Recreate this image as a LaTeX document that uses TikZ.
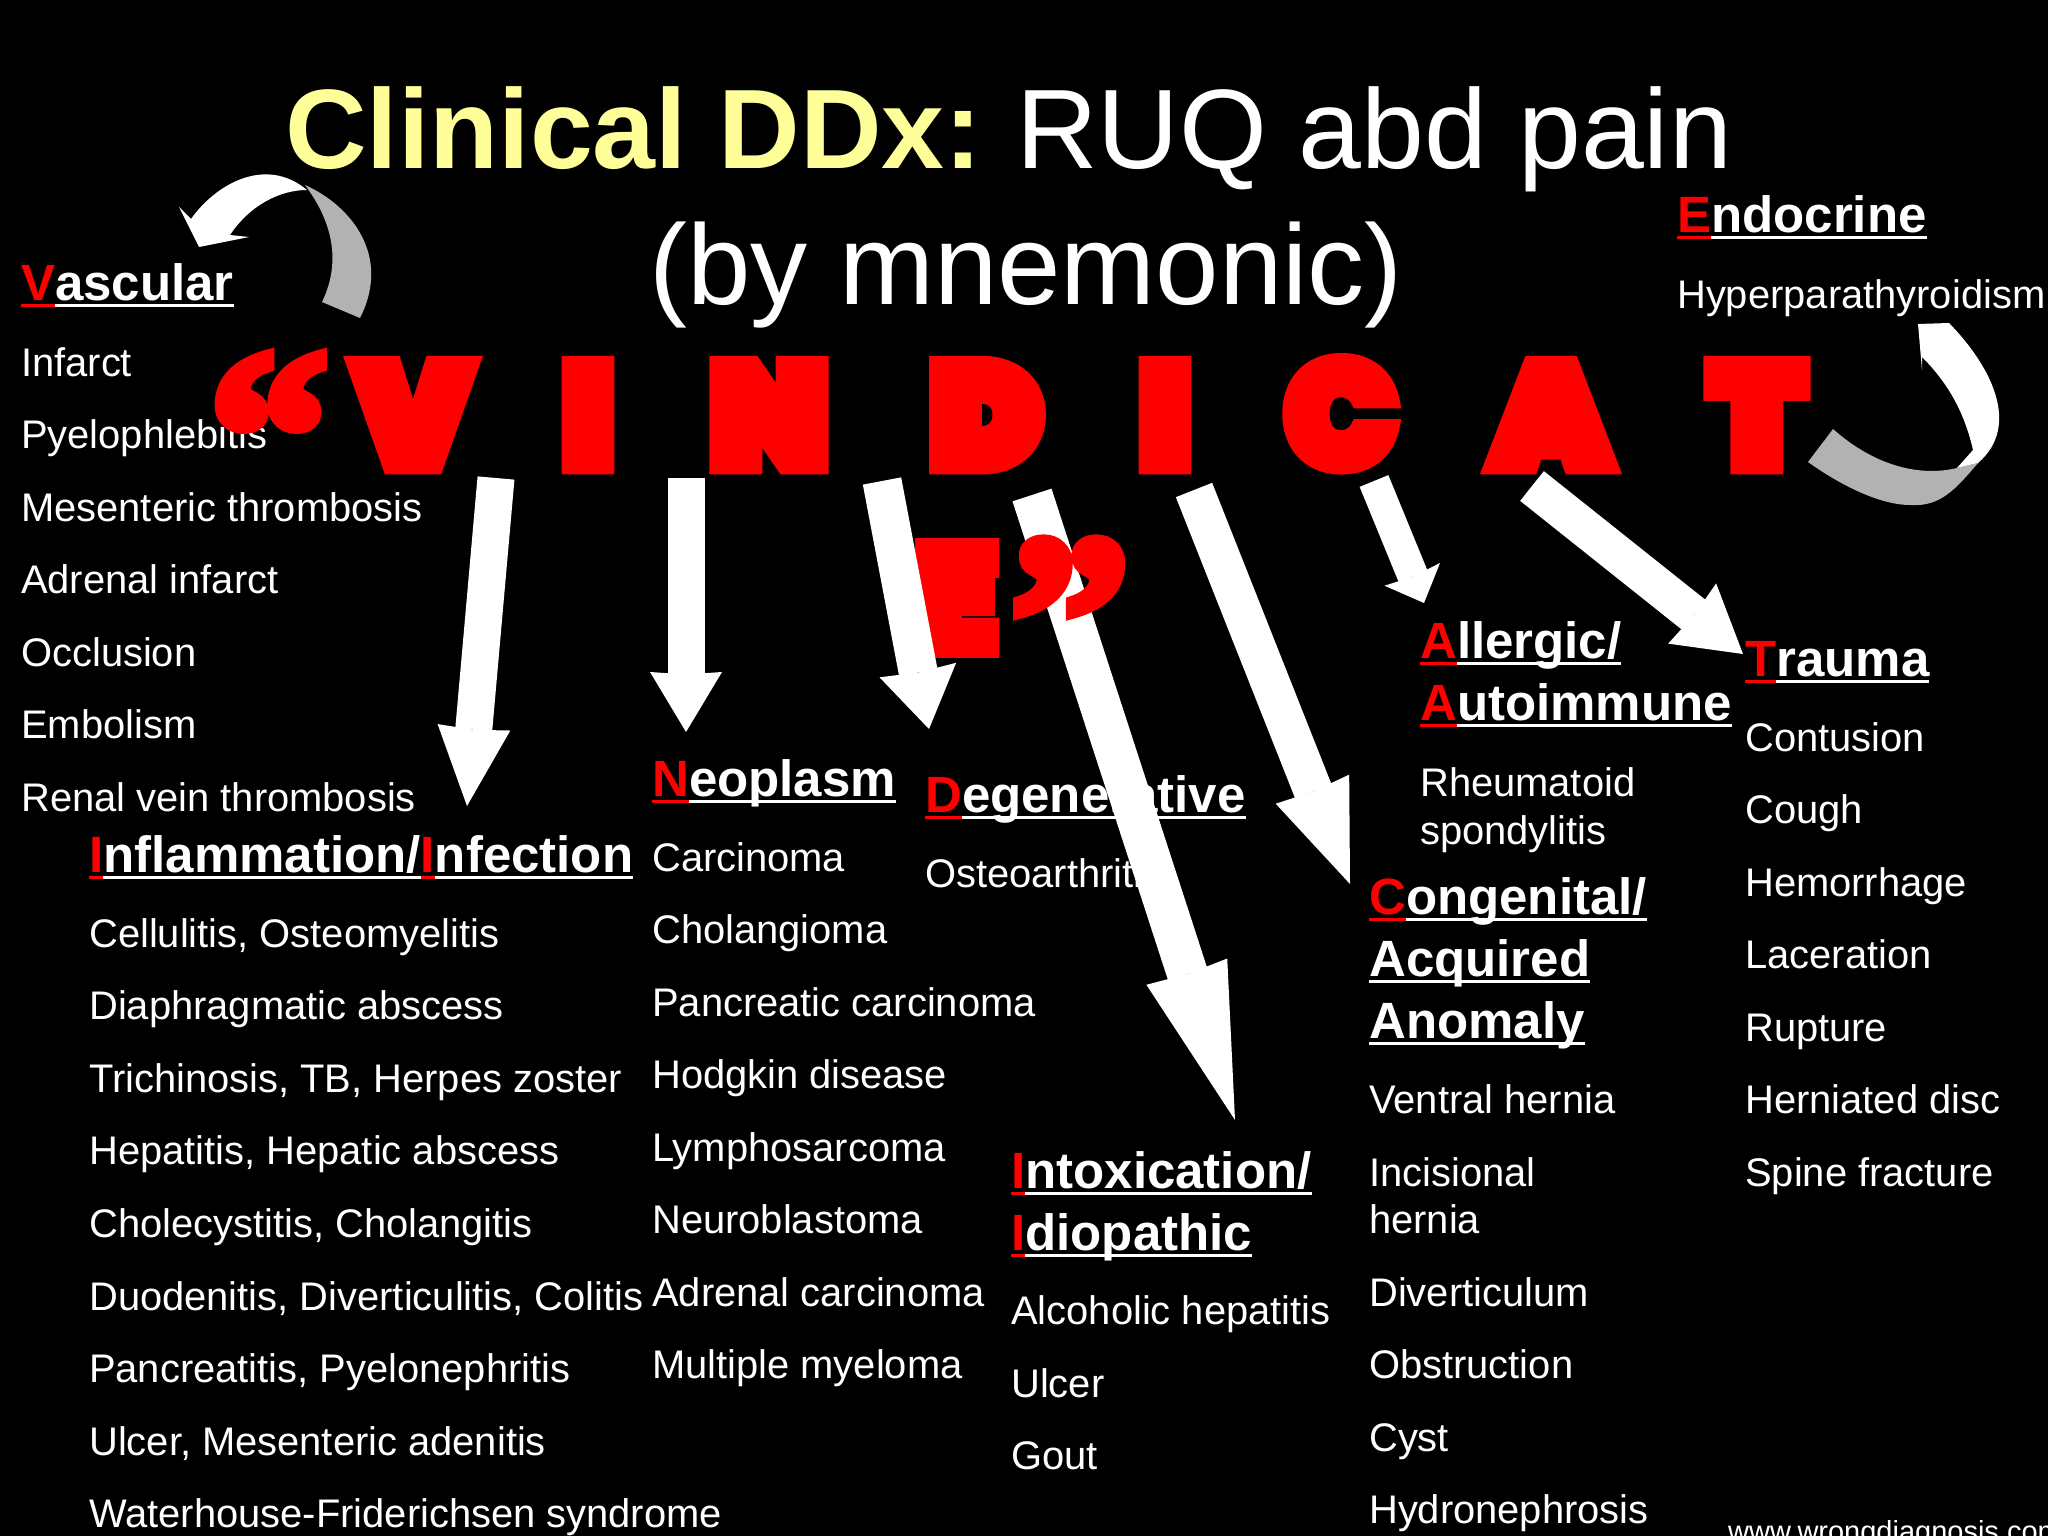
\documentclass[tikz,border=0pt]{standalone}
\usepackage{fontspec}
\usepackage{tikz}
\usetikzlibrary{arrows.meta}
\setmainfont{Liberation Sans}
\newfontfamily\heavyfont[FakeBold=15,FakeStretch=1.05]{Poppins Black}
\newfontfamily\openfont[FakeBold=9]{Poppins Black}
\newfontfamily\quotefont[FakeBold=5]{Liberation Serif Bold}
\definecolor{hired}{HTML}{FF0000}
\definecolor{pale}{HTML}{FFFF99}
\definecolor{ribbon}{HTML}{B2B2B2}
\newcommand{\ulin}[1]{\setbox0=\hbox{#1}\rlap{\vrule height -3.5pt depth 6.5pt width \wd0}\box0}
\newcommand{\hlab}[2]{{\color{hired}\ulin{#1}}\ulin{#2}}
\tikzset{
  x=1pt, y=-1pt,
  itemlab/.style={anchor=base west, inner sep=0pt, text=white, font=\fontsize{39.9}{47}\selectfont},
  headlab/.style={anchor=base west, inner sep=0pt, text=white, font=\fontsize{51}{60}\selectfont\bfseries},
  bigword/.style={anchor=base, inner sep=0pt, text=hired, font=\fontsize{138}{138}\heavyfont},
  openword/.style={anchor=base, inner sep=0pt, text=hired, font=\fontsize{150}{150}\openfont},
  quotemark/.style={anchor=base, inner sep=0pt, text=hired, font=\fontsize{240}{240}\quotefont},
  blockarrow/.style n args={3}{draw=white, line width=#1pt, -{Stealth[length=#2pt,width=#3pt,inset=2.5pt,line width=0pt]}},
}
\begin{document}
\begin{tikzpicture}
  \useasboundingbox (0,0) rectangle (2048,1536);
  \fill[black] (0,0) rectangle (2048,1536);
  % title
  \node[anchor=base west, inner sep=0pt, text=white, font=\fontsize{113}{113}\selectfont] (titleA) at (285,168)
    {\textcolor{pale}{\bfseries Clinical DDx:}\hspace{-8pt} RUQ abd pain};
  \node[anchor=base west, inner sep=0pt, text=white, font=\fontsize{114}{114}\selectfont] (titleB) at (649,304) {(by mnemonic)};
  % the word
  \foreach \ch/\x [count=\i] in {V/413,I/588,N/769,D/986,I/1165,A/1551,T/1757}
    \node[bigword] (word\i) at (\x,464) {\ch};
  \node[openword] (wordC) at (1341,467) {C};
  \node[openword] (wordE) at (956,651) {E};
  % lists
  \node[headlab] (vasc) at (21,300) {\hlab{V}{ascular}};
  \foreach \t [count=\i from 0] in {Infarct,Pyelophlebitis,Mesenteric thrombosis,Adrenal infarct,Occlusion,Embolism,Renal vein thrombosis}
    \node[itemlab] (vasc\i) at (21,376+72.5*\i) {\t};
  \node[headlab] (infl) at (89,872) {\hlab{I}{nflammation/}\hlab{I}{nfection}};
  \foreach \t [count=\i from 0] in {{Cellulitis, Osteomyelitis},Diaphragmatic abscess,{Trichinosis, TB, Herpes zoster},{Hepatitis, Hepatic abscess},{Cholecystitis, Cholangitis},{Duodenitis, Diverticulitis, Colitis},{Pancreatitis, Pyelonephritis},{Ulcer, Mesenteric adenitis},Waterhouse-Friderichsen syndrome}
    \node[itemlab] (infl\i) at (89,947+72.6*\i) {\t};
  \node[headlab] (neop) at (652,796) {\hlab{N}{eoplasm}};
  \foreach \t [count=\i from 0] in {Carcinoma,Cholangioma,Pancreatic carcinoma,Hodgkin disease,Lymphosarcoma,Neuroblastoma,Adrenal carcinoma,Multiple myeloma}
    \node[itemlab] (neop\i) at (652,871+72.5*\i) {\t};
  \node[headlab] (dege) at (925,812) {\hlab{D}{egenerative}};
  \node[itemlab] (dege0) at (925,887) {Osteoarthritis};
  \node[headlab] (into) at (1011,1188) {\hlab{I}{ntoxication/}};
  \node[headlab] (idio) at (1011,1250) {\hlab{I}{diopathic}};
  \foreach \t [count=\i from 0] in {Alcoholic hepatitis,Ulcer,Gout}
    \node[itemlab] (into\i) at (1011,1324.5+72.5*\i) {\t};
  \node[headlab] (cong) at (1369,914) {\hlab{C}{ongenital/}};
  \node[headlab] (acqu) at (1369,976) {\ulin{Acquired}};
  \node[headlab] (anom) at (1369,1038) {\ulin{Anomaly}};
  \node[itemlab] (cong0) at (1369,1113) {Ventral hernia};
  \node[itemlab] (cong1) at (1369,1186) {Incisional};
  \node[itemlab] (cong2) at (1369,1233) {hernia};
  \foreach \t [count=\i from 0] in {Diverticulum,Obstruction,Cyst,Hydronephrosis}
    \node[itemlab] (cong\i b) at (1369,1306+72.5*\i) {\t};
  \node[headlab] (alle) at (1420,658) {\hlab{A}{llergic/}};
  \node[headlab] (auto) at (1420,720) {\hlab{A}{utoimmune}};
  \node[itemlab] (alle0) at (1420,796) {Rheumatoid};
  \node[itemlab] (alle1) at (1420,844) {spondylitis};
  \node[headlab] (trau) at (1745,676) {\hlab{T}{rauma}};
  \foreach \t [count=\i from 0] in {Contusion,Cough,Hemorrhage,Laceration,Rupture,Herniated disc,Spine fracture}
    \node[itemlab] (trau\i) at (1745,751+72.5*\i) {\t};
  \node[headlab] (endo) at (1677,232) {\hlab{E}{ndocrine}};
  \node[itemlab] (endo0) at (1677,308) {Hyperparathyroidism};
  \node[anchor=base west, inner sep=0pt, text=white, font=\fontsize{29}{30}\selectfont] (site) at (1728,1541) {www.wrongdiagnosis.com};
  \node[quotemark] (openq) at (269,515) {“};
  % block arrows
  \coordinate (a1) at (496,478);  \coordinate (b1) at (467,806);
  \coordinate (a2) at (686,478);  \coordinate (b2) at (686,732);
  \coordinate (a3) at (882,481);  \coordinate (b3) at (929,729);
  \coordinate (a4) at (1032,495); \coordinate (b4) at (1235,1120);
  \coordinate (a5) at (1194,490); \coordinate (b5) at (1350,884);
  \coordinate (a6) at (1374,481); \coordinate (b6) at (1424,603);
  \coordinate (a7) at (1532,486); \coordinate (b7) at (1743,654);
  \draw[blockarrow={37}{79}{73}] (a1) -- (b1);
  \draw[blockarrow={37}{60}{72}] (a2) -- (b2);
  \draw[blockarrow={39}{60}{78}] (a3) -- (b3);
  \draw[blockarrow={41}{156}{85}] (a4) -- (b4);
  \draw[blockarrow={39}{102}{79}] (a5) -- (b5);
  \draw[blockarrow={31}{31}{60}] (a6) -- (b6);
  \draw[blockarrow={38}{65}{77}] (a7) -- (b7);
  \node[quotemark] (closeq) at (1070,700) {”};
  % curved ribbons
  \fill[ribbon] (305,185) .. controls (350,205) and (392,255) .. (360,318) -- (322,302)
    .. controls (340,265) and (335,225) .. (305,185) -- cycle;
  \fill[white] (307,190) .. controls (280,190) and (250,205) .. (230,235) -- (249,237) -- (199,247) -- (179,207) -- (191,219)
    .. controls (215,185) and (265,155) .. (307,190) -- cycle;
  \fill[ribbon] (1833,429) -- (1808,462) .. controls (1840,485) and (1880,505) .. (1910,505)
    .. controls (1940,507) and (1955,490) .. (1978,463) -- (1957,468)
    .. controls (1915,478) and (1870,462) .. (1833,429) -- cycle;
  \fill[white] (1918,324) -- (1949,323) .. controls (1990,365) and (2022,425) .. (1978,463) -- (1957,468) -- (1973,450)
    .. controls (1965,415) and (1950,385) .. (1922,357) -- (1922,370) -- cycle;
\end{tikzpicture}
\end{document}
